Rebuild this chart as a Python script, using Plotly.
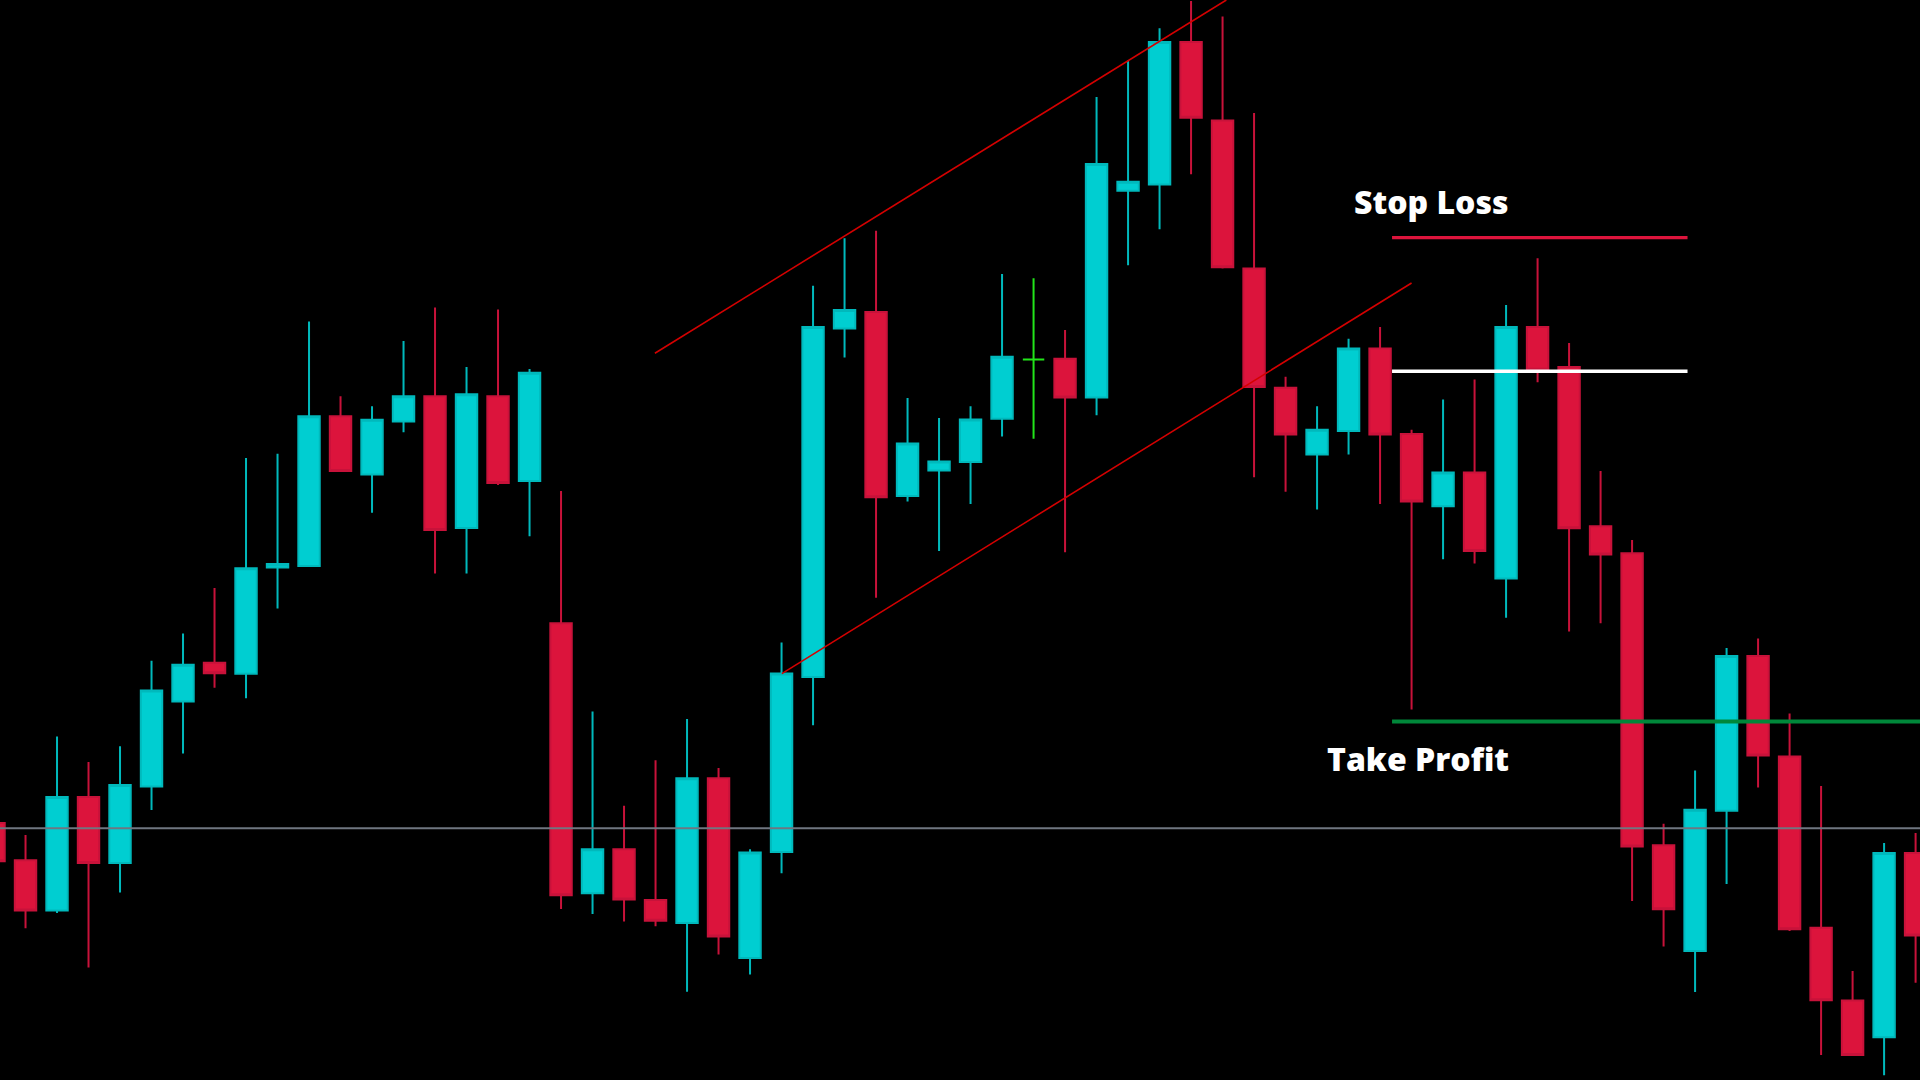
import plotly.graph_objects as go

# ---- candle data (price units, index = bar number) ----
idx = list(range(62))
opens = [257.1, 219.7, 169.4, 283.0, 216.9, 293.6, 378.4, 417.2, 406.2, 512.6,
         514.1, 663.7, 605.6, 658.4, 683.8, 552.0, 683.8, 599.0, 456.7, 186.7,
         230.8, 180.0, 157.1, 301.8, 122.0, 228.1, 403.0, 751.5, 768.0, 584.1,
         609.6, 617.9, 661.3, None, 721.2, 682.6, 889.2, 895.4, 1038.0, 959.5,
         811.4, 692.3, 625.5, 648.9, 731.5, 646.1, 573.8, 607.5, 501.5, 752.9,
         712.9, 553.8, 526.7, 234.8, 129.0, 269.2, 423.9, 323.6, 152.3, 79.4,
         42.8, 227.0]
highs = [262.0, 245.1, 343.4, 318.0, 333.8, 419.2, 446.5, 492.0, 622.0, 626.3,
         758.6, 683.8, 673.7, 739.0, 772.5, 713.0, 770.6, 711.1, 589.0, 368.6,
         274.2, 319.7, 361.0, 312.1, 230.8, 437.4, 794.2, 841.7, 849.3, 682.0,
         662.0, 673.7, 805.9, None, 750.1, 982.9, 1019.4, 1051.8, 1079.0, 1063.5,
         967.0, 703.3, 673.7, 741.2, 752.9, 650.2, 680.6, 700.5, 774.9, 821.7,
         737.0, 608.9, 540.0, 256.3, 309.6, 432.0, 441.6, 366.5, 294.0, 109.0,
         237.0, 247.0]
lows = [212.0, 151.7, 167.0, 112.4, 187.6, 270.1, 326.6, 392.3, 381.8, 471.4,
        514.1, 609.0, 567.3, 647.8, 506.4, 506.4, 595.0, 543.8, 171.0, 166.1,
        158.5, 153.7, 88.3, 125.5, 105.5, 206.7, 354.8, 722.6, 482.2, 578.6,
        529.0, 575.9, 643.4, None, 527.7, 664.7, 814.8, 850.7, 905.8, 811.4,
        602.7, 588.3, 570.4, 625.5, 575.9, 370.6, 520.8, 516.6, 462.2, 697.8,
        448.5, 456.7, 179.0, 133.5, 88.0, 196.0, 292.5, 149.0, 25.0, 25.0,
        4.7, 97.2]
closes = [218.8, 169.4, 283.0, 216.9, 295.0, 389.4, 415.3, 406.7, 511.7, 516.0,
          663.7, 609.0, 660.3, 683.8, 550.0, 685.7, 597.0, 707.3, 184.7, 230.8,
          180.6, 159.2, 301.8, 143.4, 227.4, 406.4, 752.9, 770.0, 582.8, 636.5,
          618.6, 660.6, 723.3, None, 682.6, 916.1, 898.2, 1038.0, 962.2, 812.8,
          693.0, 645.4, 650.2, 731.5, 645.4, 578.6, 607.5, 529.0, 752.9, 710.2,
          551.8, 525.6, 233.6, 170.8, 270.3, 423.9, 324.4, 150.8, 79.8, 25.0,
          227.0, 144.6]

# highlighted (green) doji bar
doji_x = [33]
doji_open = [720.5]
doji_high = [801.8]
doji_low = [641.3]
doji_close = [720.5]

# ---- drawn levels / channel ----
base_level = 251.7
channel_upper_x = [20.98, 39.12]
channel_upper_y = [726.7, 1080.0]
channel_lower_x = [25.01, 45.0]
channel_lower_y = [406.4, 797.0]
sl_level = 842.3
entry_level = 708.7
tp_level = 358.5
sl_x = [44.38, 53.76]
entry_x = [44.38, 53.76]
tp_x = [44.38, 61.5]
x_range = [0.19, 61.14]

CYAN = "#00CED1"
RED = "#DC143C"

fig = go.Figure()

# grey horizontal level (behind candles)
fig.add_trace(go.Scatter(x=[x_range[0] - 1, x_range[1] + 1], y=[base_level, base_level],
                         mode="lines", line=dict(color="#6f7680", width=2),
                         hoverinfo="skip"))

fig.add_trace(go.Candlestick(
    x=idx, open=opens, high=highs, low=lows, close=closes,
    increasing=dict(line=dict(color="#00b9bc", width=2), fillcolor=CYAN),
    decreasing=dict(line=dict(color="#c8123a", width=2), fillcolor=RED),
    whiskerwidth=0,
))

fig.add_trace(go.Candlestick(
    x=[doji_x[0] - 1] + doji_x, open=[None] + doji_open, high=[None] + doji_high,
    low=[None] + doji_low, close=[None] + doji_close,
    increasing=dict(line=dict(color="#22e51a", width=2), fillcolor="#22e51a"),
    decreasing=dict(line=dict(color="#22e51a", width=2), fillcolor="#22e51a"),
    whiskerwidth=0,
))

# channel lines
fig.add_trace(go.Scatter(x=channel_upper_x, y=channel_upper_y, mode="lines",
                         line=dict(color="#d40000", width=1.6), hoverinfo="skip"))
fig.add_trace(go.Scatter(x=channel_lower_x, y=channel_lower_y, mode="lines",
                         line=dict(color="#d40000", width=1.6), hoverinfo="skip"))

# stop loss / entry / take profit
fig.add_trace(go.Scatter(x=sl_x, y=[sl_level, sl_level], mode="lines",
                         line=dict(color=RED, width=3.2), hoverinfo="skip"))
fig.add_trace(go.Scatter(x=entry_x, y=[entry_level, entry_level], mode="lines",
                         line=dict(color="#ffffff", width=3.5), hoverinfo="skip"))
fig.add_trace(go.Scatter(x=tp_x, y=[tp_level, tp_level], mode="lines",
                         line=dict(color="#00873a", width=4), hoverinfo="skip"))

font = dict(family="Open Sans", size=32, color="#ffffff", weight=800)
fig.add_annotation(x=43.1, y=879, text="Stop Loss", showarrow=False,
                   xanchor="left", yanchor="middle", font=font)
fig.add_annotation(x=42.25, y=322, text="Take Profit", showarrow=False,
                   xanchor="left", yanchor="middle", font=font)

fig.update_layout(
    width=1920, height=1080,
    margin=dict(l=0, r=0, t=0, b=0),
    paper_bgcolor="#000000", plot_bgcolor="#000000",
    showlegend=False,
    boxgap=0.32, boxgroupgap=0,
    xaxis=dict(range=x_range, visible=False, showgrid=False, zeroline=False,
               rangeslider=dict(visible=False), fixedrange=True),
    yaxis=dict(range=[0, 1080], visible=False, showgrid=False, zeroline=False,
               fixedrange=True),
)

fig.write_html("out.html", config={"displayModeBar": False})
